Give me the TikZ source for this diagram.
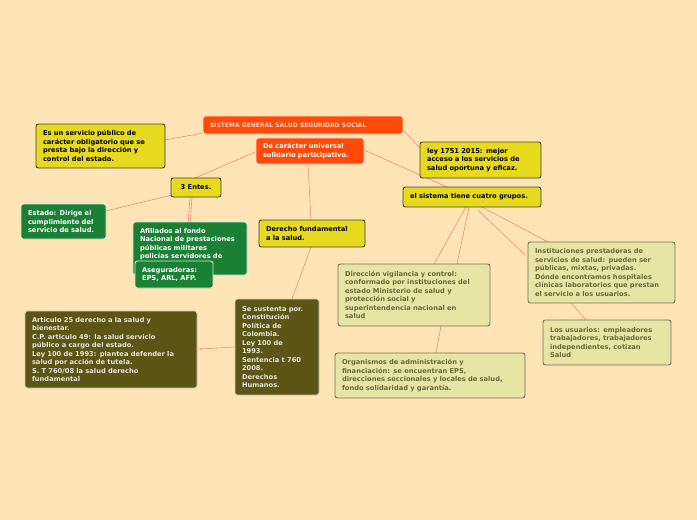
\documentclass[tikz,border=0pt]{standalone}
\usepackage{fontspec}
\setmainfont{DejaVu Sans}
\usetikzlibrary{arrows.meta}
\definecolor{bg}{HTML}{FFE4B5}
\definecolor{yel}{HTML}{E6D91E}
\definecolor{red}{HTML}{FF4A0A}
\definecolor{grn}{HTML}{1A8034}
\definecolor{oli}{HTML}{5C5515}
\definecolor{pal}{HTML}{E8E4A6}
\definecolor{paltx}{HTML}{6B6A3A}
\definecolor{edge}{HTML}{F08A80}
\tikzset{
 base/.style={rounded corners=2.5pt, font=\bfseries\fontsize{6.7}{8.5}\selectfont, align=left, inner sep=0pt, line width=0.9pt},
 yb/.style={base, fill=yel, draw=black!75},
 rb/.style={base, fill=red, draw=white!80!red, text=white},
 gb/.style={base, fill=grn, draw=white!80!grn, text=white},
 ob/.style={base, fill=oli, draw=white!70!oli, text=white!85!oli},
 pb/.style={base, fill=pal, draw=black!50!pal, text=paltx},
 ln/.style={draw=edge, line width=0.6pt}
}
\newcommand{\bx}[7]{\node[#6, minimum width=#4-#2, minimum height=#5-#3, text width=#4-#2-14] (#1) at ({(#2+#4)/2},{(#3+#5)/2}) {#7};}
\begin{document}
\begin{tikzpicture}[x=1pt,y=-1pt]
\fill[bg] (0,0) rectangle (697,520);
\useasboundingbox (0,0) rectangle (697,520);
\coordinate (t1) at (203,133); \coordinate (t2) at (403,130);
\coordinate (d1) at (260,150); \coordinate (d2) at (364,150); \coordinate (d3) at (308,164);
\draw[ln] (t1) -- (165,140);
\draw[ln] (t2) -- (420,148);
\draw[ln] (d1) -- (195,178);
\draw[ln] (d2) -- (447,187);
\draw[ln] (d3) -- (311,220);
\draw[ln] (172,195) -- (106,211);
\draw[ln] (190,197) -- (187,240);
\draw[ln] (192,197) -- (189,240);
\draw[ln] (311,247) -- (292,299);
\draw[ln,-{Stealth[length=3pt]}] (235,347) -- (199,349);
\draw[ln] (466,207) -- (434,264);
\draw[ln] (469,207) -- (457,264);
\draw[ln] (482,207) -- (548,242);
\draw[ln] (478,210) -- (525,255);
\draw[ln] (441,326) -- (436,353);
\draw[ln] (571,303) -- (586,320);
\bx{tit}{203}{116}{403}{134}{rb}{\centering\fontsize{6}{7}\selectfont\color{white!75!red}SISTEMA GENERAL SALUD SEGURIDAD SOCIAL}
\bx{esun}{36}{124}{165}{168}{yb}{Es un servicio público de\\carácter obligatorio que se\\presta bajo la dirección y\\control del estado.}
\bx{carac}{256}{138}{364}{164}{rb}{De carácter universal\\solidario participativo.}
\bx{ley}{420}{142}{541}{178}{yb}{ley 1751 2015:  mejor\\acceso a los servicios de\\salud oportuna y eficaz.}
\node[yb, minimum width=50, minimum height=19] (entes) at (196,187.5) {3  Entes.};
\bx{sis}{403}{187}{541}{207}{yb}{el sistema tiene cuatro grupos.}
\bx{estado}{21}{204}{106}{239}{gb}{Estado:  Dirige el\\cumplimiento del\\servicio de salud.}
\bx{afil}{133}{222}{247}{275}{gb}{Afiliados al fondo\\Nacional de prestaciones\\públicas militares\\policías servidores de\\entidades públicas.}
\bx{aseg}{135}{261}{213}{288}{gb}{Aseguradoras:\\EPS, ARL, AFP.}
\bx{der}{259}{220}{365}{247}{yb}{Derecho fundamental\\a la salud.}
\bx{sus}{235}{299}{319}{395}{ob}{Se sustenta por.\\ Constitución\\Política de\\Colombia.\\ Ley 100 de\\1993.\\ Sentencia t 760\\2008.\\ Derechos\\Humanos.}
\bx{art}{25}{311}{197}{388}{ob}{Articulo 25 derecho a la salud y\\bienestar.\\C.P.  articulo 49:  la salud servicio\\público a cargo del estado.\\ Ley 100 de 1993:  plantea defender la\\salud por acción de tutela.\\S. T 760/08 la salud derecho\\fundamental}
\bx{dir}{338}{264}{490}{326}{pb}{Dirección vigilancia y control:\\conformado por instituciones del\\estado Ministerio de salud y\\protección social y\\superintendencia nacional en\\salud}
\bx{inst}{528}{242}{675}{303}{pb}{Instituciones prestadoras de\\servicios de salud: pueden ser\\públicas, mixtas, privadas.\\Dónde encontramos hospitales\\clínicas laboratorios que prestan\\el servicio a los usuarios.}
\bx{org}{335}{353}{525}{398}{pb}{Organismos de administración y\\financiación: se encuentran EPS,\\direcciones seccionales y locales de salud,\\fondo solidaridad y garantía.}
\bx{usu}{543}{320}{671}{365}{pb}{Los usuarios: empleadores\\trabajadores, trabajadores\\independientes, cotizan\\Salud}
\end{tikzpicture}
\end{document}
